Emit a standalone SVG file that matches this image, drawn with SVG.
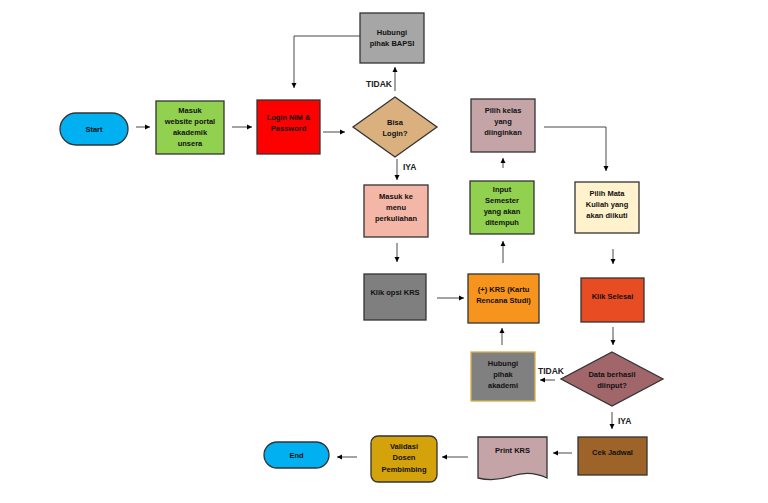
<svg xmlns="http://www.w3.org/2000/svg" width="768" height="503" viewBox="0 0 768 503">
<defs>
<marker id="ah" markerWidth="6" markerHeight="6" refX="5" refY="3" orient="auto" markerUnits="userSpaceOnUse"><path d="M0,0.5 L5,3 L0,5.5 z" fill="#000"/></marker>
<style>
.n{stroke:#333;stroke-width:1.3}
.t{font-family:"Liberation Sans",Arial,sans-serif;font-size:7.5px;font-weight:bold;fill:#111;text-anchor:middle}
.l{font-family:"Liberation Sans",Arial,sans-serif;font-size:8.5px;font-weight:bold;fill:#222}
.c{fill:none;stroke:#333;stroke-width:0.9;marker-end:url(#ah)}
</style>
</defs>
<rect width="768" height="503" fill="#fff"/>
<g id="start"><rect class="n" x="60" y="113" width="68" height="32" rx="16" fill="#00B0F0"/><text class="t" x="94" y="132">Start</text></g>
<g id="masuk"><rect class="n" x="156" y="101" width="68" height="53" fill="#92D050"/><text class="t" x="190" y="113">Masuk</text><text class="t" x="190" y="124">website portal</text><text class="t" x="190" y="135">akademik</text><text class="t" x="190" y="146">unsera</text></g>
<g id="login"><rect class="n" x="257" y="100" width="63" height="54" fill="#FF0000"/><text class="t" x="288.5" y="120">Login NIM &amp;</text><text class="t" x="288.5" y="131">Password</text></g>
<g id="bisa"><polygon class="n" points="395,97 437,127 395,157 353,127" fill="#D9B07E"/><text class="t" x="395" y="125">Bisa</text><text class="t" x="395" y="136">Login?</text></g>
<g id="bapsi"><rect class="n" x="360" y="13" width="64" height="50" fill="#A6A6A6"/><text class="t" x="392" y="35">Hubungi</text><text class="t" x="392" y="46">pihak BAPSI</text></g>
<g id="menu"><rect class="n" x="364" y="185" width="64" height="52" fill="#F4B6A6"/><text class="t" x="396" y="199">Masuk ke</text><text class="t" x="396" y="210">menu</text><text class="t" x="396" y="221">perkuliahan</text></g>
<g id="opsi"><rect class="n" x="364" y="274" width="62" height="46" fill="#7F7F7F"/><text class="t" x="395" y="295">Klik opsi KRS</text></g>
<g id="krs"><rect class="n" x="468" y="274" width="71" height="49" fill="#F7941D"/><text class="t" x="503.5" y="292">(+) KRS (Kartu</text><text class="t" x="503.5" y="303">Rencana Studi)</text></g>
<g id="akademi"><rect x="471" y="352" width="64" height="49" fill="#808080" stroke="#D4B04A" stroke-width="1.3"/><text class="t" x="503" y="366">Hubungi</text><text class="t" x="503" y="377">pihak</text><text class="t" x="503" y="388">akademi</text></g>
<g id="semester"><rect class="n" x="470" y="181" width="64" height="53" fill="#92D050"/><text class="t" x="502" y="192">Input</text><text class="t" x="502" y="203">Semester</text><text class="t" x="502" y="214">yang akan</text><text class="t" x="502" y="225">ditempuh</text></g>
<g id="kelas"><rect class="n" x="471" y="99" width="64" height="53" fill="#C4A4A7"/><text class="t" x="503" y="113">Pilih kelas</text><text class="t" x="503" y="124">yang</text><text class="t" x="503" y="135">diinginkan</text></g>
<g id="matkul"><rect class="n" x="575" y="182" width="64" height="51" fill="#FFF2CC"/><text class="t" x="607" y="196">Pilih Mata</text><text class="t" x="607" y="207">Kuliah yang</text><text class="t" x="607" y="218">akan diikuti</text></g>
<g id="selesai"><rect class="n" x="581" y="278" width="63" height="44" fill="#E84C22"/><text class="t" x="612.5" y="299">Klik Selesai</text></g>
<g id="data"><polygon class="n" points="612,352 663,379 612,406 561,379" fill="#A0666A"/><text class="t" x="612" y="377">Data berhasil</text><text class="t" x="612" y="388">diinput?</text></g>
<g id="cek"><rect class="n" x="578" y="437" width="69" height="38" fill="#9E6328"/><text class="t" x="612.5" y="455">Cek Jadwal</text></g>
<g id="print"><path class="n" d="M478,437 H547 V478 Q530,470 512,476 Q494,482 478,478 Z" fill="#C4A4A7"/><text class="t" x="512.5" y="453">Print KRS</text></g>
<g id="validasi"><rect class="n" x="371" y="436" width="66" height="46" rx="7" fill="#D4A20A"/><text class="t" x="404" y="449">Validasi</text><text class="t" x="404" y="460">Dosen</text><text class="t" x="404" y="472">Pembimbing</text></g>
<g id="end"><rect class="n" x="264" y="442" width="65" height="26" rx="13" fill="#00B0F0"/><text class="t" x="296.5" y="458">End</text></g>
<g id="connectors">
<line class="c" x1="136" y1="127" x2="150" y2="127"/>
<line class="c" x1="232" y1="127" x2="252" y2="127"/>
<line class="c" x1="323" y1="132" x2="345" y2="132"/>
<line class="c" x1="395" y1="91" x2="395" y2="67"/>
<polyline class="c" points="360,36 294,36 294,88"/>
<line class="c" x1="397" y1="159" x2="397" y2="180"/>
<line class="c" x1="397" y1="243" x2="397" y2="262"/>
<line class="c" x1="437" y1="298" x2="464" y2="298"/>
<line class="c" x1="502" y1="345" x2="502" y2="328"/>
<line class="c" x1="503" y1="263" x2="503" y2="241"/>
<line class="c" x1="503" y1="168" x2="503" y2="158"/>
<polyline class="c" points="544,127 606,127 606,171"/>
<line class="c" x1="613" y1="249" x2="613" y2="264"/>
<line class="c" x1="613" y1="327" x2="613" y2="345"/>
<line class="c" x1="555" y1="380" x2="540" y2="380"/>
<line class="c" x1="612" y1="412" x2="612" y2="429"/>
<line class="c" x1="572" y1="453" x2="553" y2="453"/>
<line class="c" x1="468" y1="457" x2="442" y2="457"/>
<line class="c" x1="357" y1="457" x2="337" y2="457"/>
<text class="l" x="366" y="87">TIDAK</text>
<text class="l" x="403" y="170">IYA</text>
<text class="l" x="538" y="374">TIDAK</text>
<text class="l" x="618" y="424">IYA</text>
</g>
</svg>
